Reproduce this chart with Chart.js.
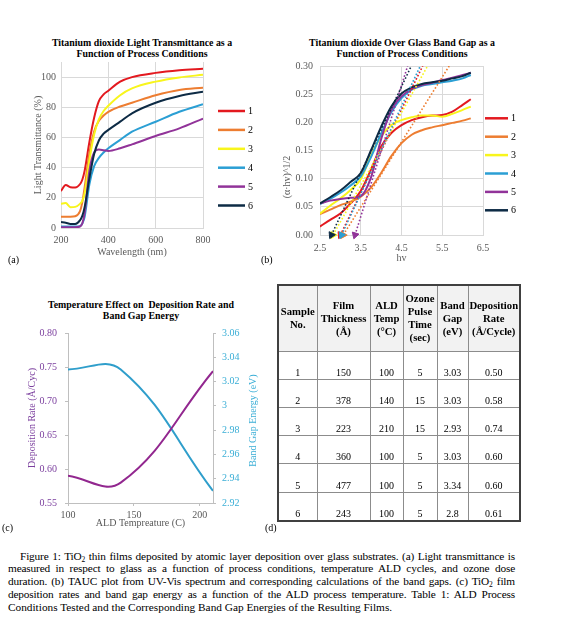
<!DOCTYPE html>
<html><head><meta charset="utf-8">
<script src="https://cdn.jsdelivr.net/npm/chart.js@4/dist/chart.umd.min.js"></script>
<style>
html,body{margin:0;padding:0;background:#fff;}
body{width:579px;height:644px;position:relative;overflow:hidden;font-family:'Liberation Serif','Times New Roman',serif;color:#000;}
canvas{position:absolute;}
.ttl{position:absolute;width:240px;text-align:center;font-weight:bold;font-size:9.9px;line-height:11.3px;white-space:pre;color:#000;}
.lbl{position:absolute;font-size:10px;line-height:10px;}
#tbl{position:absolute;left:277px;top:284px;border-collapse:collapse;table-layout:fixed;font-size:10px;border:2px solid #404040;}
#tbl th,#tbl td{border:1px solid #8c8c8c;padding:0;text-align:center;}
#tbl th{background:#f2f2f2;font-weight:bold;font-size:10.7px;line-height:13px;vertical-align:middle;}
#tbl td{vertical-align:bottom;padding-bottom:1px;line-height:11px;}
#cap{position:absolute;left:8px;top:549.5px;width:507px;font-size:11.3px;line-height:12.75px;}
#cap .j{text-align:justify;text-align-last:justify;letter-spacing:-0.15px;word-spacing:-1px;}
#cap sub{font-size:7.5px;vertical-align:-2px;line-height:0;}
</style></head><body>

<div class="ttl" style="left:22px;top:37px;">Titanium dioxide Light Transmittance as a
Function of Process Conditions</div>
<div class="ttl" style="left:282px;top:37px;">Titanium dioxide Over Glass Band Gap as a
Function of Process Conditions</div>
<div class="ttl" style="left:21px;top:299px;">Temperature Effect on  Deposition Rate and
Band Gap Energy</div>

<canvas id="cA" width="280" height="235" style="left:0;top:30px"></canvas>
<canvas id="cB" width="299" height="235" style="left:280px;top:30px"></canvas>
<canvas id="cC" width="270" height="245" style="left:0;top:290px"></canvas>

<div class="lbl" style="left:8px;top:255px;">(a)</div>
<div class="lbl" style="left:261px;top:255px;">(b)</div>
<div class="lbl" style="left:2px;top:523px;">(c)</div>
<div class="lbl" style="left:265px;top:523px;">(d)</div>

<table id="tbl"></table>

<div id="cap">
<div class="j" style="text-indent:12px">Figure 1: TiO<sub>2</sub> thin films deposited by atomic layer deposition over glass substrates. (a) Light transmittance is</div>
<div class="j">measured in respect to glass as a function of process conditions, temperature ALD cycles, and ozone dose</div>
<div class="j">duration. (b) TAUC plot from UV-Vis spectrum and corresponding calculations of the band gaps. (c) TiO<sub>2</sub> film</div>
<div class="j">deposition rates and band gap energy as a function of the ALD process temperature. Table 1: ALD Process</div>
<div>Conditions Tested and the Corresponding Band Gap Energies of the Resulting Films.</div>
</div>

<script>
// ---------- shared ----------
const seriesNames = ['1','2','3','4','5','6'];
const seriesColors = ['#e3191f','#ed7d31','#f8f51c','#2b9fd4','#913399','#0d2b45'];

// ---------- (a) light transmittance ----------
const wavelength = [200,220,240,260,280,290,300,320,340,360,380,400,450,500,600,700,800];
const trans1 = [24.5,28.5,27.0,26.8,29.0,32.0,38.0,57.0,73.0,84.0,88.5,91.0,97.0,100.0,102.8,104.5,105.5];
const trans2 = [7.5,7.5,7.5,7.8,11.0,17.0,27.0,50.0,64.0,71.0,74.5,77.0,80.5,83.0,88.0,91.5,93.0];
const trans3 = [16.0,16.5,13.8,14.0,16.0,18.0,23.0,45.0,62.0,72.0,77.5,81.0,88.0,92.5,97.0,99.8,101.5];
const trans4 = [1.0,1.0,1.0,1.0,1.2,3.0,7.5,29.0,41.0,46.5,50.0,52.8,58.4,63.8,70.4,77.0,82.0];
const trans5 = [0.5,0.5,0.5,0.5,1.0,3.0,10.0,38.0,50.0,52.0,51.5,51.0,52.8,55.4,61.0,66.0,72.5];
const trans6 = [4.0,3.5,2.7,2.7,5.0,8.0,14.0,33.0,49.0,58.0,62.5,65.0,70.5,76.0,83.0,87.5,90.3];
const waveTicks = [200,400,600,800];
const transTicks = [0,20,40,60,80,100];

// ---------- (b) TAUC plot ----------
const photonEnergy = [2.5,2.75,3.0,3.25,3.5,3.75,4.0,4.25,4.5,4.75,5.0,5.25,5.5,5.75,6.0,6.2];
const tauc1 = [0.015,0.027,0.038,0.056,0.078,0.116,0.157,0.181,0.195,0.204,0.209,0.212,0.213,0.219,0.231,0.241];
const tauc2 = [0.037,0.045,0.053,0.059,0.068,0.084,0.110,0.140,0.163,0.178,0.186,0.191,0.195,0.199,0.203,0.207];
const tauc3 = [0.038,0.052,0.065,0.080,0.099,0.141,0.175,0.195,0.204,0.209,0.212,0.212,0.210,0.215,0.222,0.228];
const tauc4 = [0.055,0.064,0.075,0.088,0.104,0.138,0.180,0.218,0.243,0.258,0.265,0.268,0.271,0.274,0.278,0.284];
const tauc5 = [0.056,0.061,0.064,0.066,0.069,0.102,0.170,0.222,0.246,0.259,0.266,0.270,0.275,0.279,0.284,0.288];
const tauc6 = [0.056,0.067,0.079,0.094,0.110,0.150,0.192,0.228,0.251,0.262,0.268,0.271,0.274,0.278,0.282,0.288];
const tangentBottomX = [3.00,3.07,2.82,3.03,3.36,2.78];   // x-intercepts (band gap estimates)
const tangentTopX    = [5.02,5.67,5.14,4.96,4.65,4.74];   // x where tangent reaches 0.30
const tangentTopY = 0.30;
const hvTicks = [2.5,3.5,4.5,5.5,6.5];
const taucTicks = [0,0.05,0.10,0.15,0.20,0.25,0.30];

// ---------- (c) temperature effect ----------
const aldTemp = [100,140,210];
const depositionRate = [0.59,0.58,0.744];
const bandGapEnergy = [3.03,3.03,2.93];
const tempTicks = [100,150,200];
const rateTicks = [0.55,0.60,0.65,0.70,0.75,0.80];
const gapTicks = [2.92,2.94,2.96,2.98,3.00,3.02,3.04,3.06];

// ---------- table ----------
const tableHeaders = ['Sample<br>No.','Film<br>Thickness<br>(Å)','ALD<br>Temp<br>(°C)','Ozone<br>Pulse<br>Time<br>(sec)','Band<br>Gap<br>(eV)','Deposition<br>Rate<br>(Å/Cycle)'];
const sampleNo = ['1','2','3','4','5','6'];
const filmThickness = ['150','378','223','360','477','243'];
const ald_Temp = ['100','140','210','100','100','100'];
const ozonePulse = ['5','15','15','5','5','5'];
const bandGap = ['3.03','3.03','2.93','3.03','3.34','2.8'];
const depRate = ['0.50','0.58','0.74','0.60','0.60','0.61'];

// build table
(function(){
  const colW = [39,53,33,34,31,52];
  const rowH = [28,28,28,28,29,29];
  const t = document.getElementById('tbl');
  let h = '<colgroup>' + colW.map(w=>'<col style="width:'+w+'px">').join('') + '</colgroup>';
  h += '<tr style="height:66px">' + tableHeaders.map(x=>'<th>'+x+'</th>').join('') + '</tr>';
  const cols = [sampleNo, filmThickness, ald_Temp, ozonePulse, bandGap, depRate];
  for (let r = 0; r < sampleNo.length; r++) {
    h += '<tr style="height:'+rowH[r]+'px">' + cols.map(c=>'<td>'+c[r]+'</td>').join('') + '</tr>';
  }
  t.innerHTML = h;
})();

// ---------- plugins ----------
const sideLegend = {
  id: 'sideLegend',
  afterDraw(chart, args, o) {
    const ctx = chart.ctx;
    ctx.save();
    ctx.font = o.font;
    ctx.textBaseline = 'middle';
    ctx.textAlign = 'left';
    for (let i = 0; i < o.count; i++) {
      const y = o.y + i * o.dy;
      ctx.strokeStyle = seriesColors[i];
      ctx.lineWidth = o.lineWidth;
      ctx.beginPath(); ctx.moveTo(o.x, y); ctx.lineTo(o.x + o.len, y); ctx.stroke();
      ctx.fillStyle = '#000';
      ctx.fillText(seriesNames[i], o.x + o.len + o.gap, y + 0.5);
    }
    ctx.restore();
  }
};
const vTitle = {
  id: 'vTitle',
  afterDraw(chart, args, o) {
    const ctx = chart.ctx;
    (o.items || []).forEach(it => {
      ctx.save();
      ctx.translate(it.x, it.y);
      ctx.rotate(-Math.PI / 2);
      ctx.font = it.font;
      ctx.fillStyle = it.color;
      ctx.textAlign = 'center';
      ctx.textBaseline = 'middle';
      ctx.fillText(it.text, 0, 0);
      ctx.restore();
    });
  }
};

Chart.defaults.font.family = "'Liberation Serif','Times New Roman',serif";
Chart.defaults.font.size = 10;
Chart.defaults.color = '#595959';

const GRID = '#d9d9d9';
const setTicks = arr => (s => { s.ticks = arr.map(v => ({value: v})); });
const baseOpts = {responsive:false, animation:false, devicePixelRatio:1, events:[]};

// ---------- chart (a) ----------
const transSeries = [trans1,trans2,trans3,trans4,trans5,trans6];
new Chart(document.getElementById('cA'), {
  type: 'line',
  data: {
    datasets: transSeries.map((arr, i) => ({
      label: seriesNames[i],
      data: wavelength.map((x, j) => ({x: x, y: arr[j]})),
      borderColor: seriesColors[i], borderWidth: 2, pointRadius: 0,
      cubicInterpolationMode: 'monotone', fill: false,
      order: 6 - i
    }))
  },
  options: Object.assign({}, baseOpts, {
    layout: {padding: {left: 32, top: 32, right: 77, bottom: 7}},
    plugins: {
      legend: {display: false}, tooltip: {enabled: false},
      sideLegend: {x: 218, y: 81, dy: 18.9, len: 27, gap: 3, count: 6, lineWidth: 2.5, font: "10px 'Liberation Serif'"}
    },
    scales: {
      x: {type: 'linear', min: 200, max: 800, afterBuildTicks: setTicks(waveTicks), afterFit: s => { s.height = 30; },
          grid: {color: GRID, drawTicks: false}, border: {color: GRID},
          ticks: {padding: 6, autoSkip: false, maxRotation: 0},
          title: {display: true, text: 'Wavelength (nm)', padding: 0}},
      y: {type: 'linear', min: 0, max: 110, afterBuildTicks: setTicks(transTicks), afterFit: s => { s.width = 29; },
          grid: {color: GRID, drawTicks: false}, border: {color: GRID},
          ticks: {padding: 5, autoSkip: false},
          title: {display: true, text: 'Light Transmittance (%)', padding: 0}}
    }
  }),
  plugins: [sideLegend]
});

// ---------- chart (b) ----------
const taucSeries = [tauc1,tauc2,tauc3,tauc4,tauc5,tauc6];
const taucDatasets = taucSeries.map((arr, i) => ({
  label: seriesNames[i],
  data: photonEnergy.map((x, j) => ({x: x, y: arr[j]})),
  borderColor: seriesColors[i], borderWidth: 2, pointRadius: 0,
  cubicInterpolationMode: 'monotone', fill: false, order: 12 - i
}));
const tangentDatasets = tangentBottomX.map((bx, i) => ({
  label: 'tangent ' + seriesNames[i],
  data: [{x: bx, y: 0}, {x: tangentTopX[i], y: tangentTopY}],
  borderColor: seriesColors[i], borderWidth: 1.6, borderDash: [1.6, 2], tension: 0,
  pointStyle: 'triangle',
  pointRadius: ctx => ctx.dataIndex === 0 ? 4 : 0,
  pointBackgroundColor: seriesColors[i], pointBorderColor: seriesColors[i], pointBorderWidth: 1,
  pointRotation: ctx => {
    const ch = ctx.chart, sx = ch.scales.x, sy = ch.scales.y, d = ctx.dataset.data;
    const dx = sx.getPixelForValue(d[0].x) - sx.getPixelForValue(d[1].x);
    const dy = sy.getPixelForValue(d[0].y) - sy.getPixelForValue(d[1].y);
    return Math.atan2(dx, -dy) * 180 / Math.PI;
  },
  clip: {left: 0, top: 0, right: 0, bottom: 8}, fill: false, order: 6 - i
}));
new Chart(document.getElementById('cB'), {
  type: 'line',
  data: {datasets: taucDatasets.concat(tangentDatasets)},
  options: Object.assign({}, baseOpts, {
    layout: {padding: {left: 0, top: 36, right: 96, bottom: 1}},
    plugins: {
      legend: {display: false}, tooltip: {enabled: false},
      sideLegend: {x: 205, y: 88.3, dy: 18.4, len: 23, gap: 3, count: 6, lineWidth: 2.5, font: "10px 'Liberation Serif'"},
      vTitle: {items: [{x: 7, y: 147, text: '(α·hv)^1/2', font: "10px 'Liberation Serif'", color: '#595959'}]}
    },
    scales: {
      x: {type: 'linear', min: 2.5, max: 6.5, afterBuildTicks: setTicks(hvTicks), afterFit: s => { s.height = 29; },
          grid: {color: GRID, drawTicks: false}, border: {color: GRID},
          ticks: {padding: 7, autoSkip: false, maxRotation: 0, callback: v => Number(v).toFixed(1)},
          title: {display: true, text: 'hv', padding: 0}},
      y: {type: 'linear', min: 0, max: 0.30, afterBuildTicks: setTicks(taucTicks), afterFit: s => { s.width = 40; },
          grid: {color: GRID, drawTicks: false}, border: {color: GRID},
          ticks: {padding: 7, autoSkip: false, callback: v => Number(v).toFixed(2)}}
    }
  }),
  plugins: [sideLegend, vTitle]
});

// ---------- chart (c) ----------
const PURPLE = '#92278f', PURPLE_T = '#7b3f9e', BLUE = '#2f9ecb', BLUE_T = '#3aaed6';
new Chart(document.getElementById('cC'), {
  type: 'line',
  data: {datasets: [
    {label: 'Deposition Rate', data: aldTemp.map((x, j) => ({x: x, y: depositionRate[j]})), yAxisID: 'y',
     borderColor: PURPLE, borderWidth: 2, pointRadius: 0, tension: 0.4, fill: false},
    {label: 'Band Gap Energy', data: aldTemp.map((x, j) => ({x: x, y: bandGapEnergy[j]})), yAxisID: 'y1',
     borderColor: BLUE, borderWidth: 2, pointRadius: 0, tension: 0.4, fill: false}
  ]},
  options: Object.assign({}, baseOpts, {
    layout: {padding: {left: 26, top: 43, right: 7, bottom: 6}},
    plugins: {
      legend: {display: false}, tooltip: {enabled: false},
      vTitle: {items: [{x: 253, y: 130.5, text: 'Band Gap Energy (eV)', font: "10px 'Liberation Serif'", color: BLUE_T}]}
    },
    scales: {
      x: {type: 'linear', min: 100, max: 210, afterBuildTicks: setTicks(tempTicks), afterFit: s => { s.height = 26; },
          grid: {display: true, drawOnChartArea: false, drawTicks: true, tickLength: 3, color: '#bfbfbf'}, border: {color: '#bfbfbf'},
          ticks: {padding: 3, autoSkip: false, maxRotation: 0},
          title: {display: true, text: 'ALD Tempreature (C)', padding: 0}},
      y: {type: 'linear', position: 'left', min: 0.55, max: 0.80, afterBuildTicks: setTicks(rateTicks), afterFit: s => { s.width = 42; },
          grid: {display: true, drawOnChartArea: false, drawTicks: true, tickLength: 3, color: '#bfbfbf'}, border: {color: '#bfbfbf'},
          ticks: {padding: 8, autoSkip: false, color: PURPLE_T, callback: v => Number(v).toFixed(2)},
          title: {display: true, text: 'Deposition Rate (Å/Cyc)', padding: 0, color: PURPLE_T}},
      y1: {type: 'linear', position: 'right', min: 2.92, max: 3.06, afterBuildTicks: setTicks(gapTicks), afterFit: s => { s.width = 50; },
          grid: {display: true, drawOnChartArea: false, drawTicks: true, tickLength: 3, color: '#bfbfbf'}, border: {color: '#bfbfbf'},
          ticks: {padding: 6, autoSkip: false, color: BLUE_T, callback: v => String(Number(Number(v).toFixed(2)))}}
    }
  }),
  plugins: [vTitle]
});
</script>
</body></html>
